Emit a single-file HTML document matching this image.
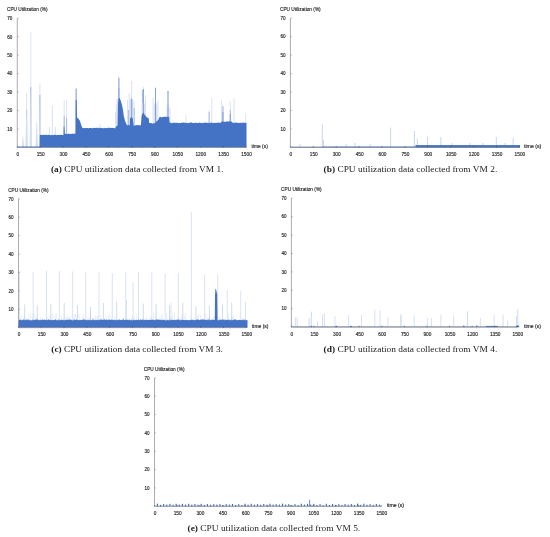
<!DOCTYPE html>
<html><head><meta charset="utf-8"><title>CPU utilization</title>
<style>html,body{margin:0;padding:0;background:#fff;}body{width:550px;height:537px;overflow:hidden;}svg{display:block;}</style>
</head><body>
<svg width="550" height="537" viewBox="0 0 550 537">
<line x1="22.80" y1="136.50" x2="22.80" y2="147.50" stroke="#d6e0f3" stroke-width="0.9"/>
<line x1="26.60" y1="93.00" x2="26.60" y2="147.50" stroke="#d6e0f3" stroke-width="0.9"/>
<line x1="30.80" y1="31.90" x2="30.80" y2="147.50" stroke="#d6e0f3" stroke-width="0.9"/>
<line x1="36.80" y1="122.40" x2="36.80" y2="147.50" stroke="#d6e0f3" stroke-width="0.9"/>
<line x1="39.90" y1="83.50" x2="39.90" y2="147.50" stroke="#d6e0f3" stroke-width="0.9"/>
<line x1="49.60" y1="126.90" x2="49.60" y2="147.50" stroke="#d6e0f3" stroke-width="0.9"/>
<line x1="52.40" y1="105.60" x2="52.40" y2="147.50" stroke="#d6e0f3" stroke-width="0.9"/>
<line x1="55.40" y1="126.90" x2="55.40" y2="147.50" stroke="#d6e0f3" stroke-width="0.9"/>
<line x1="64.20" y1="100.60" x2="64.20" y2="147.50" stroke="#d6e0f3" stroke-width="0.9"/>
<line x1="66.60" y1="100.00" x2="66.60" y2="147.50" stroke="#d6e0f3" stroke-width="0.9"/>
<line x1="75.90" y1="88.50" x2="75.90" y2="147.50" stroke="#d6e0f3" stroke-width="0.9"/>
<line x1="118.90" y1="76.00" x2="118.90" y2="147.50" stroke="#d6e0f3" stroke-width="0.9"/>
<line x1="129.20" y1="93.00" x2="129.20" y2="147.50" stroke="#d6e0f3" stroke-width="0.9"/>
<line x1="131.60" y1="80.90" x2="131.60" y2="147.50" stroke="#d6e0f3" stroke-width="0.9"/>
<line x1="134.00" y1="100.90" x2="134.00" y2="147.50" stroke="#d6e0f3" stroke-width="0.9"/>
<line x1="143.40" y1="86.80" x2="143.40" y2="147.50" stroke="#d6e0f3" stroke-width="0.9"/>
<line x1="155.50" y1="86.80" x2="155.50" y2="147.50" stroke="#d6e0f3" stroke-width="0.9"/>
<line x1="168.00" y1="91.00" x2="168.00" y2="147.50" stroke="#d6e0f3" stroke-width="0.9"/>
<line x1="185.90" y1="115.30" x2="185.90" y2="147.50" stroke="#d6e0f3" stroke-width="0.9"/>
<line x1="209.30" y1="110.00" x2="209.30" y2="147.50" stroke="#d6e0f3" stroke-width="0.9"/>
<line x1="211.80" y1="97.70" x2="211.80" y2="147.50" stroke="#d6e0f3" stroke-width="0.9"/>
<line x1="221.60" y1="100.00" x2="221.60" y2="147.50" stroke="#d6e0f3" stroke-width="0.9"/>
<line x1="223.20" y1="107.00" x2="223.20" y2="147.50" stroke="#d6e0f3" stroke-width="0.9"/>
<line x1="230.30" y1="101.90" x2="230.30" y2="147.50" stroke="#d6e0f3" stroke-width="0.9"/>
<line x1="234.10" y1="98.50" x2="234.10" y2="147.50" stroke="#d6e0f3" stroke-width="0.9"/>
<line x1="245.70" y1="112.80" x2="245.70" y2="147.50" stroke="#d6e0f3" stroke-width="0.9"/>
<line x1="80.50" y1="128.00" x2="80.50" y2="147.50" stroke="#d6e0f3" stroke-width="0.9"/>
<line x1="100.00" y1="124.00" x2="100.00" y2="147.50" stroke="#d6e0f3" stroke-width="0.9"/>
<line x1="115.60" y1="112.00" x2="115.60" y2="147.50" stroke="#d6e0f3" stroke-width="0.9"/>
<line x1="116.40" y1="104.00" x2="116.40" y2="147.50" stroke="#d6e0f3" stroke-width="0.9"/>
<line x1="117.20" y1="99.00" x2="117.20" y2="147.50" stroke="#d6e0f3" stroke-width="0.9"/>
<line x1="117.80" y1="101.00" x2="117.80" y2="147.50" stroke="#d6e0f3" stroke-width="0.9"/>
<line x1="145.50" y1="95.00" x2="145.50" y2="147.50" stroke="#d6e0f3" stroke-width="0.9"/>
<line x1="158.00" y1="100.00" x2="158.00" y2="147.50" stroke="#d6e0f3" stroke-width="0.9"/>
<line x1="153.00" y1="98.00" x2="153.00" y2="147.50" stroke="#d6e0f3" stroke-width="0.9"/>
<line x1="170.00" y1="108.00" x2="170.00" y2="147.50" stroke="#d6e0f3" stroke-width="0.9"/>
<line x1="127.50" y1="100.00" x2="127.50" y2="147.50" stroke="#d6e0f3" stroke-width="0.9"/>
<line x1="26.60" y1="110.00" x2="26.60" y2="147.50" stroke="#9fb7e3" stroke-width="0.9"/>
<line x1="30.80" y1="87.00" x2="30.80" y2="147.50" stroke="#9fb7e3" stroke-width="0.9"/>
<line x1="39.90" y1="95.00" x2="39.90" y2="147.50" stroke="#9fb7e3" stroke-width="0.9"/>
<line x1="64.20" y1="116.00" x2="64.20" y2="147.50" stroke="#9fb7e3" stroke-width="0.9"/>
<line x1="66.60" y1="118.00" x2="66.60" y2="147.50" stroke="#9fb7e3" stroke-width="0.9"/>
<line x1="75.90" y1="100.00" x2="75.90" y2="147.50" stroke="#9fb7e3" stroke-width="0.9"/>
<line x1="118.90" y1="88.00" x2="118.90" y2="147.50" stroke="#9fb7e3" stroke-width="0.9"/>
<line x1="131.70" y1="98.60" x2="131.70" y2="147.50" stroke="#9fb7e3" stroke-width="0.9"/>
<line x1="131.20" y1="105.00" x2="131.20" y2="147.50" stroke="#9fb7e3" stroke-width="0.9"/>
<line x1="132.20" y1="108.00" x2="132.20" y2="147.50" stroke="#9fb7e3" stroke-width="0.9"/>
<line x1="142.40" y1="90.00" x2="142.40" y2="147.50" stroke="#9fb7e3" stroke-width="0.9"/>
<line x1="143.40" y1="100.00" x2="143.40" y2="147.50" stroke="#9fb7e3" stroke-width="0.9"/>
<line x1="128.60" y1="110.00" x2="128.60" y2="147.50" stroke="#9fb7e3" stroke-width="0.9"/>
<line x1="134.20" y1="108.00" x2="134.20" y2="147.50" stroke="#9fb7e3" stroke-width="0.9"/>
<line x1="155.50" y1="110.00" x2="155.50" y2="147.50" stroke="#9fb7e3" stroke-width="0.9"/>
<line x1="168.00" y1="105.00" x2="168.00" y2="147.50" stroke="#9fb7e3" stroke-width="0.9"/>
<line x1="222.90" y1="106.00" x2="222.90" y2="147.50" stroke="#9fb7e3" stroke-width="0.9"/>
<line x1="230.30" y1="110.00" x2="230.30" y2="147.50" stroke="#9fb7e3" stroke-width="0.9"/>
<line x1="209.10" y1="112.00" x2="209.10" y2="147.50" stroke="#9fb7e3" stroke-width="0.9"/>
<polygon points="21.80,147.5 23.00,138 24.20,147.5" fill="#d6e0f3"/>
<polygon points="25.20,147.5 26.60,105 28.00,147.5" fill="#d6e0f3"/>
<polygon points="29.60,147.5 30.80,90 32.00,147.5" fill="#d6e0f3"/>
<polygon points="35.30,147.5 36.70,125 38.10,147.5" fill="#d6e0f3"/>
<polygon points="39.00,147.5 40.00,100 41.00,147.5" fill="#d6e0f3"/>
<polygon points="116.50,147.5 116.50,104.00 118.00,98.00 119.50,104.00 119.50,147.5" fill="#d6e0f3"/>
<polygon points="129.20,147.5 129.20,102.00 131.20,96.00 133.20,102.00 133.20,147.5" fill="#d6e0f3"/>
<polygon points="141.65,147.5 141.65,106.00 143.40,100.00 145.15,106.00 145.15,147.5" fill="#d6e0f3"/>
<polygon points="153.75,147.5 153.75,106.00 155.50,100.00 157.25,106.00 157.25,147.5" fill="#d6e0f3"/>
<polygon points="166.50,147.5 166.50,110.00 168.00,104.00 169.50,110.00 169.50,147.5" fill="#d6e0f3"/>
<line x1="118.90" y1="78.00" x2="118.90" y2="147.50" stroke="#7b98d6" stroke-width="0.9"/>
<line x1="131.70" y1="99.00" x2="131.70" y2="147.50" stroke="#7b98d6" stroke-width="0.9"/>
<line x1="143.40" y1="89.00" x2="143.40" y2="147.50" stroke="#7b98d6" stroke-width="0.9"/>
<line x1="155.50" y1="88.00" x2="155.50" y2="147.50" stroke="#7b98d6" stroke-width="0.9"/>
<line x1="168.00" y1="91.00" x2="168.00" y2="147.50" stroke="#7b98d6" stroke-width="0.9"/>
<line x1="222.90" y1="112.00" x2="222.90" y2="147.50" stroke="#7b98d6" stroke-width="0.9"/>
<line x1="230.30" y1="114.00" x2="230.30" y2="147.50" stroke="#7b98d6" stroke-width="0.9"/>
<line x1="76.20" y1="88.50" x2="76.20" y2="147.50" stroke="#6f8fd0" stroke-width="0.8"/>
<polygon points="17.30,147.50 17.30,146.60 39.60,146.60 39.80,135.00 40.20,134.89 40.80,134.79 41.40,135.09 42.00,134.74 42.60,135.02 43.20,134.92 43.80,134.73 44.40,135.00 45.00,134.72 45.60,134.96 46.20,134.74 46.80,134.75 47.40,134.95 48.00,135.20 48.60,134.77 49.20,134.83 49.80,135.08 50.40,135.27 51.00,135.05 51.60,134.94 52.20,135.29 52.80,134.73 53.40,135.22 54.00,134.87 54.60,134.79 55.20,134.77 55.80,134.89 56.40,135.19 57.00,134.81 57.60,135.05 58.20,135.08 58.80,134.92 59.40,135.03 60.00,134.74 60.60,134.74 61.20,134.82 61.80,135.11 62.40,134.96 63.00,134.89 63.50,135.00 63.50,135.00 63.70,126.50 64.30,125.90 64.80,133.80 65.00,133.85 65.60,133.77 66.20,133.68 66.80,133.98 67.40,133.92 68.00,133.65 68.60,133.84 69.20,133.82 69.80,134.03 70.40,133.94 71.00,133.67 71.60,134.09 72.20,133.57 72.80,133.75 73.40,133.95 74.00,133.59 74.60,133.79 75.20,133.52 75.50,133.80 75.70,133.70 75.90,100.00 76.60,100.00 77.00,117.50 78.50,118.70 80.00,121.00 81.50,126.00 82.50,127.90 82.70,128.12 83.30,128.19 83.90,128.05 84.50,128.26 85.10,127.87 85.70,128.14 86.30,128.07 86.90,128.06 87.50,127.97 88.10,128.24 88.70,128.31 89.30,127.98 89.90,128.11 90.50,127.69 91.10,128.14 91.70,128.10 92.30,128.35 92.90,128.23 93.50,127.85 94.10,127.92 94.70,128.12 95.30,127.67 95.90,127.97 96.50,127.77 97.10,127.73 97.70,127.69 98.30,128.19 98.90,127.74 99.50,127.82 100.10,127.92 100.70,128.26 101.30,127.71 101.90,127.96 102.50,128.03 103.10,128.27 103.70,128.22 104.30,128.25 104.90,127.84 105.50,127.94 106.10,127.90 106.70,128.27 107.30,128.32 107.90,127.76 108.50,127.77 109.10,127.81 109.70,127.81 110.30,127.99 110.90,128.06 111.50,127.83 112.10,127.65 112.70,127.94 113.30,127.91 113.90,128.05 114.50,128.32 115.10,128.13 115.30,128.00 116.30,126.30 117.60,125.50 118.00,104.00 118.60,99.00 119.30,97.80 120.50,100.00 122.00,105.00 123.00,110.00 123.80,116.00 125.00,120.80 126.80,125.00 127.00,125.21 127.60,125.29 128.20,125.34 128.80,124.84 129.40,125.52 129.80,125.20 130.00,118.40 131.30,117.00 132.80,118.50 133.50,125.00 133.60,125.62 134.20,125.70 134.80,125.64 135.40,125.31 136.00,125.32 136.60,125.08 137.20,125.51 137.80,125.05 138.40,125.05 139.00,125.17 139.60,125.13 140.20,125.27 140.80,125.04 141.00,125.40 141.00,124.00 141.60,116.00 142.50,113.50 143.40,112.50 144.50,114.50 146.00,116.50 147.50,117.80 148.80,118.50 149.20,123.00 149.20,123.00 149.80,123.12 150.40,123.08 151.00,123.29 151.60,123.02 152.20,123.70 152.80,123.49 153.40,123.12 154.00,123.20 154.50,123.40 155.50,122.50 157.00,121.00 158.50,119.50 159.40,117.20 159.60,116.88 160.20,116.89 160.80,116.70 161.40,117.28 162.00,117.39 162.60,116.97 163.20,116.99 163.80,116.67 164.40,116.68 165.00,116.87 165.60,116.81 166.20,117.26 166.80,116.73 167.40,116.62 168.00,117.36 168.60,117.02 169.20,116.72 169.20,117.00 169.40,121.00 169.60,122.83 170.20,122.47 170.80,122.82 171.40,123.13 172.00,123.05 172.60,122.94 173.20,122.63 173.80,122.71 174.40,122.57 175.00,122.99 175.60,122.82 176.20,123.00 176.80,122.68 177.40,122.61 178.00,123.02 178.60,123.14 179.20,123.05 179.80,123.01 180.40,123.02 181.00,122.97 181.60,122.61 182.20,122.81 182.80,122.70 183.40,122.47 184.00,122.47 184.60,122.65 185.20,122.63 185.80,122.93 186.40,123.12 187.00,122.76 187.60,123.11 188.20,123.14 188.80,123.12 189.40,122.71 190.00,122.60 190.60,122.61 191.20,122.59 191.80,122.59 192.40,122.89 193.00,123.08 193.60,123.04 194.20,122.79 194.80,122.91 195.40,123.01 196.00,122.51 196.60,122.91 197.20,123.09 197.80,123.00 198.40,122.98 199.00,122.78 199.60,122.57 200.20,123.00 200.80,122.68 201.40,123.01 202.00,123.13 202.60,122.73 203.20,122.73 203.80,123.11 204.40,122.96 205.00,122.57 205.60,122.54 206.20,122.56 206.80,123.08 207.40,123.01 208.00,122.55 208.60,123.03 209.20,123.14 209.80,122.91 210.40,122.70 211.00,122.83 211.60,122.54 212.20,122.46 212.80,123.13 213.40,122.90 214.00,122.82 214.60,123.10 215.20,122.75 215.80,123.06 216.40,123.03 217.00,122.60 217.60,122.63 218.20,122.66 218.80,122.62 219.40,122.86 220.00,122.63 220.60,122.74 221.00,122.80 221.20,121.34 221.80,121.89 222.40,121.50 223.00,121.57 223.60,121.66 224.20,121.88 224.80,121.54 225.40,121.89 226.00,121.60 226.60,121.62 227.20,121.62 227.80,121.26 228.40,121.56 229.00,121.38 229.60,121.25 230.20,121.81 230.80,121.37 231.40,121.58 232.00,121.76 232.00,121.60 232.20,122.74 232.80,122.58 233.40,122.71 234.00,122.74 234.60,122.90 235.20,122.42 235.80,122.74 236.40,122.52 237.00,122.54 237.60,122.89 238.20,122.71 238.80,122.74 239.40,122.88 240.00,122.99 240.60,122.66 241.20,122.78 241.80,122.70 242.40,122.71 243.00,122.83 243.60,122.67 244.20,122.72 244.80,122.68 245.40,123.01 246.00,122.84 246.40,122.70 246.50,122.80 246.50,147.50" fill="#4472c4"/>
<line x1="322.30" y1="124.40" x2="322.30" y2="147.40" stroke="#b9cbea" stroke-width="0.8"/>
<line x1="390.60" y1="127.60" x2="390.60" y2="147.40" stroke="#b9cbea" stroke-width="0.8"/>
<line x1="414.40" y1="130.90" x2="414.40" y2="147.40" stroke="#b9cbea" stroke-width="0.8"/>
<line x1="417.40" y1="138.50" x2="417.40" y2="147.40" stroke="#b9cbea" stroke-width="0.8"/>
<line x1="427.50" y1="136.90" x2="427.50" y2="147.40" stroke="#b9cbea" stroke-width="0.8"/>
<line x1="440.90" y1="137.00" x2="440.90" y2="147.40" stroke="#b9cbea" stroke-width="0.8"/>
<line x1="496.30" y1="137.00" x2="496.30" y2="147.40" stroke="#b9cbea" stroke-width="0.8"/>
<line x1="513.20" y1="138.00" x2="513.20" y2="147.40" stroke="#b9cbea" stroke-width="0.8"/>
<line x1="323.50" y1="140.00" x2="323.50" y2="147.40" stroke="#b9cbea" stroke-width="0.8"/>
<line x1="300.00" y1="144.00" x2="300.00" y2="147.40" stroke="#b9cbea" stroke-width="0.8"/>
<line x1="346.00" y1="144.00" x2="346.00" y2="147.40" stroke="#b9cbea" stroke-width="0.8"/>
<line x1="355.00" y1="143.00" x2="355.00" y2="147.40" stroke="#b9cbea" stroke-width="0.8"/>
<line x1="370.00" y1="144.00" x2="370.00" y2="147.40" stroke="#b9cbea" stroke-width="0.8"/>
<line x1="452.00" y1="143.00" x2="452.00" y2="147.40" stroke="#b9cbea" stroke-width="0.8"/>
<line x1="470.00" y1="143.00" x2="470.00" y2="147.40" stroke="#b9cbea" stroke-width="0.8"/>
<line x1="483.00" y1="143.00" x2="483.00" y2="147.40" stroke="#b9cbea" stroke-width="0.8"/>
<line x1="505.00" y1="143.00" x2="505.00" y2="147.40" stroke="#b9cbea" stroke-width="0.8"/>
<rect x="290.40" y="146.7" width="31.60" height="0.9" fill="#5f73a6"/>
<rect x="322" y="146.5" width="197.90" height="1.1" fill="#4472c4"/>
<rect x="415.5" y="145.1" width="104.50" height="2.4" fill="#4472c4"/>
<line x1="21.12" y1="315.42" x2="21.12" y2="327.70" stroke="#d6e0f3" stroke-width="0.6"/>
<line x1="24.23" y1="316.07" x2="24.23" y2="327.70" stroke="#d6e0f3" stroke-width="0.6"/>
<line x1="25.13" y1="318.10" x2="25.13" y2="327.70" stroke="#d6e0f3" stroke-width="0.6"/>
<line x1="28.93" y1="314.56" x2="28.93" y2="327.70" stroke="#d6e0f3" stroke-width="0.6"/>
<line x1="30.65" y1="313.64" x2="30.65" y2="327.70" stroke="#d6e0f3" stroke-width="0.6"/>
<line x1="32.81" y1="313.26" x2="32.81" y2="327.70" stroke="#d6e0f3" stroke-width="0.6"/>
<line x1="34.16" y1="313.06" x2="34.16" y2="327.70" stroke="#d6e0f3" stroke-width="0.6"/>
<line x1="36.13" y1="316.13" x2="36.13" y2="327.70" stroke="#d6e0f3" stroke-width="0.6"/>
<line x1="37.65" y1="317.42" x2="37.65" y2="327.70" stroke="#d6e0f3" stroke-width="0.6"/>
<line x1="41.14" y1="316.68" x2="41.14" y2="327.70" stroke="#d6e0f3" stroke-width="0.6"/>
<line x1="42.81" y1="318.15" x2="42.81" y2="327.70" stroke="#d6e0f3" stroke-width="0.6"/>
<line x1="47.15" y1="317.04" x2="47.15" y2="327.70" stroke="#d6e0f3" stroke-width="0.6"/>
<line x1="49.19" y1="316.18" x2="49.19" y2="327.70" stroke="#d6e0f3" stroke-width="0.6"/>
<line x1="52.42" y1="313.44" x2="52.42" y2="327.70" stroke="#d6e0f3" stroke-width="0.6"/>
<line x1="54.95" y1="314.71" x2="54.95" y2="327.70" stroke="#d6e0f3" stroke-width="0.6"/>
<line x1="56.34" y1="313.34" x2="56.34" y2="327.70" stroke="#d6e0f3" stroke-width="0.6"/>
<line x1="61.28" y1="315.46" x2="61.28" y2="327.70" stroke="#d6e0f3" stroke-width="0.6"/>
<line x1="63.38" y1="317.79" x2="63.38" y2="327.70" stroke="#d6e0f3" stroke-width="0.6"/>
<line x1="64.91" y1="317.90" x2="64.91" y2="327.70" stroke="#d6e0f3" stroke-width="0.6"/>
<line x1="65.94" y1="317.39" x2="65.94" y2="327.70" stroke="#d6e0f3" stroke-width="0.6"/>
<line x1="67.18" y1="314.32" x2="67.18" y2="327.70" stroke="#d6e0f3" stroke-width="0.6"/>
<line x1="68.38" y1="317.52" x2="68.38" y2="327.70" stroke="#d6e0f3" stroke-width="0.6"/>
<line x1="69.67" y1="317.12" x2="69.67" y2="327.70" stroke="#d6e0f3" stroke-width="0.6"/>
<line x1="72.06" y1="315.89" x2="72.06" y2="327.70" stroke="#d6e0f3" stroke-width="0.6"/>
<line x1="74.17" y1="314.00" x2="74.17" y2="327.70" stroke="#d6e0f3" stroke-width="0.6"/>
<line x1="75.57" y1="313.91" x2="75.57" y2="327.70" stroke="#d6e0f3" stroke-width="0.6"/>
<line x1="76.92" y1="314.72" x2="76.92" y2="327.70" stroke="#d6e0f3" stroke-width="0.6"/>
<line x1="79.10" y1="313.92" x2="79.10" y2="327.70" stroke="#d6e0f3" stroke-width="0.6"/>
<line x1="82.26" y1="318.20" x2="82.26" y2="327.70" stroke="#d6e0f3" stroke-width="0.6"/>
<line x1="83.24" y1="314.43" x2="83.24" y2="327.70" stroke="#d6e0f3" stroke-width="0.6"/>
<line x1="84.40" y1="318.04" x2="84.40" y2="327.70" stroke="#d6e0f3" stroke-width="0.6"/>
<line x1="88.11" y1="317.17" x2="88.11" y2="327.70" stroke="#d6e0f3" stroke-width="0.6"/>
<line x1="89.32" y1="317.63" x2="89.32" y2="327.70" stroke="#d6e0f3" stroke-width="0.6"/>
<line x1="90.75" y1="313.21" x2="90.75" y2="327.70" stroke="#d6e0f3" stroke-width="0.6"/>
<line x1="92.91" y1="317.16" x2="92.91" y2="327.70" stroke="#d6e0f3" stroke-width="0.6"/>
<line x1="95.06" y1="316.54" x2="95.06" y2="327.70" stroke="#d6e0f3" stroke-width="0.6"/>
<line x1="95.86" y1="315.89" x2="95.86" y2="327.70" stroke="#d6e0f3" stroke-width="0.6"/>
<line x1="97.37" y1="315.72" x2="97.37" y2="327.70" stroke="#d6e0f3" stroke-width="0.6"/>
<line x1="98.17" y1="318.01" x2="98.17" y2="327.70" stroke="#d6e0f3" stroke-width="0.6"/>
<line x1="99.53" y1="318.38" x2="99.53" y2="327.70" stroke="#d6e0f3" stroke-width="0.6"/>
<line x1="100.76" y1="315.28" x2="100.76" y2="327.70" stroke="#d6e0f3" stroke-width="0.6"/>
<line x1="106.05" y1="316.71" x2="106.05" y2="327.70" stroke="#d6e0f3" stroke-width="0.6"/>
<line x1="108.23" y1="314.52" x2="108.23" y2="327.70" stroke="#d6e0f3" stroke-width="0.6"/>
<line x1="109.93" y1="313.91" x2="109.93" y2="327.70" stroke="#d6e0f3" stroke-width="0.6"/>
<line x1="114.80" y1="315.73" x2="114.80" y2="327.70" stroke="#d6e0f3" stroke-width="0.6"/>
<line x1="122.55" y1="318.33" x2="122.55" y2="327.70" stroke="#d6e0f3" stroke-width="0.6"/>
<line x1="123.53" y1="317.92" x2="123.53" y2="327.70" stroke="#d6e0f3" stroke-width="0.6"/>
<line x1="128.94" y1="318.48" x2="128.94" y2="327.70" stroke="#d6e0f3" stroke-width="0.6"/>
<line x1="132.36" y1="314.87" x2="132.36" y2="327.70" stroke="#d6e0f3" stroke-width="0.6"/>
<line x1="134.40" y1="317.04" x2="134.40" y2="327.70" stroke="#d6e0f3" stroke-width="0.6"/>
<line x1="136.22" y1="314.43" x2="136.22" y2="327.70" stroke="#d6e0f3" stroke-width="0.6"/>
<line x1="138.39" y1="316.40" x2="138.39" y2="327.70" stroke="#d6e0f3" stroke-width="0.6"/>
<line x1="143.43" y1="317.69" x2="143.43" y2="327.70" stroke="#d6e0f3" stroke-width="0.6"/>
<line x1="146.63" y1="317.02" x2="146.63" y2="327.70" stroke="#d6e0f3" stroke-width="0.6"/>
<line x1="150.12" y1="315.66" x2="150.12" y2="327.70" stroke="#d6e0f3" stroke-width="0.6"/>
<line x1="151.57" y1="317.85" x2="151.57" y2="327.70" stroke="#d6e0f3" stroke-width="0.6"/>
<line x1="153.62" y1="313.12" x2="153.62" y2="327.70" stroke="#d6e0f3" stroke-width="0.6"/>
<line x1="155.73" y1="315.98" x2="155.73" y2="327.70" stroke="#d6e0f3" stroke-width="0.6"/>
<line x1="159.11" y1="317.35" x2="159.11" y2="327.70" stroke="#d6e0f3" stroke-width="0.6"/>
<line x1="161.23" y1="315.30" x2="161.23" y2="327.70" stroke="#d6e0f3" stroke-width="0.6"/>
<line x1="162.23" y1="313.26" x2="162.23" y2="327.70" stroke="#d6e0f3" stroke-width="0.6"/>
<line x1="166.51" y1="313.56" x2="166.51" y2="327.70" stroke="#d6e0f3" stroke-width="0.6"/>
<line x1="167.99" y1="318.48" x2="167.99" y2="327.70" stroke="#d6e0f3" stroke-width="0.6"/>
<line x1="169.48" y1="316.84" x2="169.48" y2="327.70" stroke="#d6e0f3" stroke-width="0.6"/>
<line x1="170.48" y1="316.76" x2="170.48" y2="327.70" stroke="#d6e0f3" stroke-width="0.6"/>
<line x1="172.46" y1="314.37" x2="172.46" y2="327.70" stroke="#d6e0f3" stroke-width="0.6"/>
<line x1="174.43" y1="313.40" x2="174.43" y2="327.70" stroke="#d6e0f3" stroke-width="0.6"/>
<line x1="177.43" y1="316.34" x2="177.43" y2="327.70" stroke="#d6e0f3" stroke-width="0.6"/>
<line x1="180.94" y1="316.99" x2="180.94" y2="327.70" stroke="#d6e0f3" stroke-width="0.6"/>
<line x1="181.81" y1="313.91" x2="181.81" y2="327.70" stroke="#d6e0f3" stroke-width="0.6"/>
<line x1="184.15" y1="315.69" x2="184.15" y2="327.70" stroke="#d6e0f3" stroke-width="0.6"/>
<line x1="185.22" y1="313.24" x2="185.22" y2="327.70" stroke="#d6e0f3" stroke-width="0.6"/>
<line x1="191.06" y1="314.54" x2="191.06" y2="327.70" stroke="#d6e0f3" stroke-width="0.6"/>
<line x1="195.06" y1="318.23" x2="195.06" y2="327.70" stroke="#d6e0f3" stroke-width="0.6"/>
<line x1="197.16" y1="315.90" x2="197.16" y2="327.70" stroke="#d6e0f3" stroke-width="0.6"/>
<line x1="198.44" y1="314.44" x2="198.44" y2="327.70" stroke="#d6e0f3" stroke-width="0.6"/>
<line x1="200.61" y1="314.89" x2="200.61" y2="327.70" stroke="#d6e0f3" stroke-width="0.6"/>
<line x1="203.18" y1="317.61" x2="203.18" y2="327.70" stroke="#d6e0f3" stroke-width="0.6"/>
<line x1="205.77" y1="313.52" x2="205.77" y2="327.70" stroke="#d6e0f3" stroke-width="0.6"/>
<line x1="207.96" y1="317.73" x2="207.96" y2="327.70" stroke="#d6e0f3" stroke-width="0.6"/>
<line x1="209.03" y1="316.62" x2="209.03" y2="327.70" stroke="#d6e0f3" stroke-width="0.6"/>
<line x1="209.96" y1="317.08" x2="209.96" y2="327.70" stroke="#d6e0f3" stroke-width="0.6"/>
<line x1="213.41" y1="316.22" x2="213.41" y2="327.70" stroke="#d6e0f3" stroke-width="0.6"/>
<line x1="214.94" y1="316.64" x2="214.94" y2="327.70" stroke="#d6e0f3" stroke-width="0.6"/>
<line x1="215.83" y1="313.18" x2="215.83" y2="327.70" stroke="#d6e0f3" stroke-width="0.6"/>
<line x1="216.80" y1="315.04" x2="216.80" y2="327.70" stroke="#d6e0f3" stroke-width="0.6"/>
<line x1="218.81" y1="317.01" x2="218.81" y2="327.70" stroke="#d6e0f3" stroke-width="0.6"/>
<line x1="219.96" y1="316.05" x2="219.96" y2="327.70" stroke="#d6e0f3" stroke-width="0.6"/>
<line x1="224.12" y1="318.32" x2="224.12" y2="327.70" stroke="#d6e0f3" stroke-width="0.6"/>
<line x1="228.17" y1="313.40" x2="228.17" y2="327.70" stroke="#d6e0f3" stroke-width="0.6"/>
<line x1="232.29" y1="317.90" x2="232.29" y2="327.70" stroke="#d6e0f3" stroke-width="0.6"/>
<line x1="233.31" y1="314.75" x2="233.31" y2="327.70" stroke="#d6e0f3" stroke-width="0.6"/>
<line x1="242.25" y1="317.80" x2="242.25" y2="327.70" stroke="#d6e0f3" stroke-width="0.6"/>
<line x1="245.18" y1="318.11" x2="245.18" y2="327.70" stroke="#d6e0f3" stroke-width="0.6"/>
<line x1="19.40" y1="271.06" x2="19.40" y2="327.70" stroke="#d6e0f3" stroke-width="0.9"/>
<line x1="33.20" y1="271.66" x2="33.20" y2="327.70" stroke="#d6e0f3" stroke-width="0.9"/>
<line x1="46.50" y1="270.72" x2="46.50" y2="327.70" stroke="#d6e0f3" stroke-width="0.9"/>
<line x1="59.30" y1="271.18" x2="59.30" y2="327.70" stroke="#d6e0f3" stroke-width="0.9"/>
<line x1="72.60" y1="271.44" x2="72.60" y2="327.70" stroke="#d6e0f3" stroke-width="0.9"/>
<line x1="85.70" y1="272.23" x2="85.70" y2="327.70" stroke="#d6e0f3" stroke-width="0.9"/>
<line x1="99.00" y1="271.73" x2="99.00" y2="327.70" stroke="#d6e0f3" stroke-width="0.9"/>
<line x1="112.30" y1="273.11" x2="112.30" y2="327.70" stroke="#d6e0f3" stroke-width="0.9"/>
<line x1="125.70" y1="272.46" x2="125.70" y2="327.70" stroke="#d6e0f3" stroke-width="0.9"/>
<line x1="138.50" y1="272.08" x2="138.50" y2="327.70" stroke="#d6e0f3" stroke-width="0.9"/>
<line x1="151.80" y1="272.10" x2="151.80" y2="327.70" stroke="#d6e0f3" stroke-width="0.9"/>
<line x1="165.10" y1="273.24" x2="165.10" y2="327.70" stroke="#d6e0f3" stroke-width="0.9"/>
<line x1="178.40" y1="272.83" x2="178.40" y2="327.70" stroke="#d6e0f3" stroke-width="0.9"/>
<line x1="204.60" y1="274.69" x2="204.60" y2="327.70" stroke="#d6e0f3" stroke-width="0.9"/>
<line x1="217.70" y1="274.23" x2="217.70" y2="327.70" stroke="#d6e0f3" stroke-width="0.9"/>
<line x1="191.30" y1="211.60" x2="191.30" y2="327.70" stroke="#d6e0f3" stroke-width="0.9"/>
<line x1="133.10" y1="282.30" x2="133.10" y2="327.70" stroke="#d6e0f3" stroke-width="0.9"/>
<line x1="227.30" y1="290.00" x2="227.30" y2="327.70" stroke="#d6e0f3" stroke-width="0.9"/>
<line x1="240.70" y1="290.80" x2="240.70" y2="327.70" stroke="#d6e0f3" stroke-width="0.9"/>
<line x1="245.50" y1="301.70" x2="245.50" y2="327.70" stroke="#d6e0f3" stroke-width="0.9"/>
<line x1="126.50" y1="300.00" x2="126.50" y2="327.70" stroke="#d6e0f3" stroke-width="0.9"/>
<line x1="171.00" y1="303.00" x2="171.00" y2="327.70" stroke="#d6e0f3" stroke-width="0.9"/>
<line x1="24.70" y1="304.49" x2="24.70" y2="327.70" stroke="#b9cbea" stroke-width="0.7"/>
<line x1="37.30" y1="305.55" x2="37.30" y2="327.70" stroke="#b9cbea" stroke-width="0.7"/>
<line x1="50.80" y1="304.02" x2="50.80" y2="327.70" stroke="#b9cbea" stroke-width="0.7"/>
<line x1="64.20" y1="303.04" x2="64.20" y2="327.70" stroke="#b9cbea" stroke-width="0.7"/>
<line x1="77.50" y1="305.50" x2="77.50" y2="327.70" stroke="#b9cbea" stroke-width="0.7"/>
<line x1="90.50" y1="307.05" x2="90.50" y2="327.70" stroke="#b9cbea" stroke-width="0.7"/>
<line x1="103.40" y1="302.86" x2="103.40" y2="327.70" stroke="#b9cbea" stroke-width="0.7"/>
<line x1="116.70" y1="301.70" x2="116.70" y2="327.70" stroke="#b9cbea" stroke-width="0.7"/>
<line x1="143.30" y1="303.53" x2="143.30" y2="327.70" stroke="#b9cbea" stroke-width="0.7"/>
<line x1="156.10" y1="304.02" x2="156.10" y2="327.70" stroke="#b9cbea" stroke-width="0.7"/>
<line x1="169.50" y1="305.60" x2="169.50" y2="327.70" stroke="#b9cbea" stroke-width="0.7"/>
<line x1="182.80" y1="302.69" x2="182.80" y2="327.70" stroke="#b9cbea" stroke-width="0.7"/>
<line x1="195.90" y1="306.28" x2="195.90" y2="327.70" stroke="#b9cbea" stroke-width="0.7"/>
<line x1="209.40" y1="305.93" x2="209.40" y2="327.70" stroke="#b9cbea" stroke-width="0.7"/>
<line x1="222.50" y1="304.53" x2="222.50" y2="327.70" stroke="#b9cbea" stroke-width="0.7"/>
<line x1="231.70" y1="302.73" x2="231.70" y2="327.70" stroke="#b9cbea" stroke-width="0.7"/>
<polygon points="18.50,327.70 18.50,320.42 19.00,319.69 19.50,320.25 20.00,319.60 20.50,319.59 21.00,320.19 21.50,319.67 22.00,320.40 22.50,319.90 23.00,319.56 23.50,319.60 24.00,319.81 24.50,320.08 25.00,320.39 25.50,319.51 26.00,319.78 26.50,319.58 27.00,320.42 27.50,319.51 28.00,319.41 28.50,319.42 29.00,319.78 29.50,320.34 30.00,320.32 30.50,320.16 31.00,320.45 31.50,320.37 32.00,319.71 32.50,319.55 33.00,320.38 33.50,320.17 34.00,319.39 34.50,320.08 35.00,319.77 35.50,319.76 36.00,319.71 36.50,319.54 37.00,319.35 37.50,319.66 38.00,319.74 38.50,320.40 39.00,319.49 39.50,320.41 40.00,319.58 40.50,319.74 41.00,320.25 41.50,320.25 42.00,319.83 42.50,319.40 43.00,319.87 43.50,319.76 44.00,320.36 44.50,319.56 45.00,319.75 45.50,320.34 46.00,319.38 46.50,319.80 47.00,320.24 47.50,320.19 48.00,319.39 48.50,319.39 49.00,319.42 49.50,320.36 50.00,319.63 50.50,320.17 51.00,320.34 51.50,319.72 52.00,319.65 52.50,320.40 53.00,320.03 53.50,319.64 54.00,320.14 54.50,319.70 55.00,319.65 55.50,319.35 56.00,320.18 56.50,320.36 57.00,320.05 57.50,320.39 58.00,319.38 58.50,319.61 59.00,319.87 59.50,320.40 60.00,320.40 60.50,319.78 61.00,319.63 61.50,319.82 62.00,319.89 62.50,320.37 63.00,319.55 63.50,320.23 64.00,320.16 64.50,320.26 65.00,320.20 65.50,320.02 66.00,319.71 66.50,319.70 67.00,319.75 67.50,320.21 68.00,319.44 68.50,319.57 69.00,320.18 69.50,319.62 70.00,319.42 70.50,319.39 71.00,319.96 71.50,319.71 72.00,320.43 72.50,320.32 73.00,320.44 73.50,319.64 74.00,319.44 74.50,319.46 75.00,319.90 75.50,320.13 76.00,319.84 76.50,319.61 77.00,319.81 77.50,320.03 78.00,320.09 78.50,320.17 79.00,320.28 79.50,320.08 80.00,319.48 80.50,320.27 81.00,319.67 81.50,319.97 82.00,319.76 82.50,320.16 83.00,319.57 83.50,319.62 84.00,319.62 84.50,319.52 85.00,320.32 85.50,319.99 86.00,319.71 86.50,319.79 87.00,320.44 87.50,319.91 88.00,319.60 88.50,320.24 89.00,320.07 89.50,320.44 90.00,319.46 90.50,319.87 91.00,320.25 91.50,320.27 92.00,320.36 92.50,319.39 93.00,319.67 93.50,319.48 94.00,319.56 94.50,320.42 95.00,319.99 95.50,320.37 96.00,319.76 96.50,320.30 97.00,319.84 97.50,319.64 98.00,320.21 98.50,320.39 99.00,319.47 99.50,320.01 100.00,320.03 100.50,319.59 101.00,319.76 101.50,319.51 102.00,319.57 102.50,319.63 103.00,320.01 103.50,320.07 104.00,319.57 104.50,319.36 105.00,319.71 105.50,320.10 106.00,319.55 106.50,319.69 107.00,319.57 107.50,320.22 108.00,319.95 108.50,319.42 109.00,319.46 109.50,319.78 110.00,319.96 110.50,320.05 111.00,319.45 111.50,319.53 112.00,320.11 112.50,319.80 113.00,319.66 113.50,319.69 114.00,320.40 114.50,319.69 115.00,319.97 115.50,319.74 116.00,319.81 116.50,320.30 117.00,320.45 117.50,319.75 118.00,319.57 118.50,320.15 119.00,319.57 119.50,319.36 120.00,320.34 120.50,319.82 121.00,320.25 121.50,319.80 122.00,320.32 122.50,319.86 123.00,319.53 123.50,319.37 124.00,319.96 124.50,320.05 125.00,320.35 125.50,319.45 126.00,320.03 126.50,319.76 127.00,319.90 127.50,319.51 128.00,319.66 128.50,319.92 129.00,320.37 129.50,319.47 130.00,319.89 130.50,320.24 131.00,320.41 131.50,319.57 132.00,319.49 132.50,320.39 133.00,320.42 133.50,319.88 134.00,319.41 134.50,320.37 135.00,319.78 135.50,320.34 136.00,320.03 136.50,320.26 137.00,319.53 137.50,320.21 138.00,319.59 138.50,319.79 139.00,320.28 139.50,320.26 140.00,319.55 140.50,319.59 141.00,319.79 141.50,319.92 142.00,319.77 142.50,319.49 143.00,319.62 143.50,320.15 144.00,320.34 144.50,319.40 145.00,319.97 145.50,320.18 146.00,319.39 146.50,320.27 147.00,319.48 147.50,320.01 148.00,319.96 148.50,320.04 149.00,319.69 149.50,319.81 150.00,319.99 150.50,319.82 151.00,320.07 151.50,319.84 152.00,319.83 152.50,319.38 153.00,320.03 153.50,319.89 154.00,319.61 154.50,320.19 155.00,320.21 155.50,319.85 156.00,319.55 156.50,319.87 157.00,319.47 157.50,319.49 158.00,319.82 158.50,319.45 159.00,319.84 159.50,319.91 160.00,319.39 160.50,320.05 161.00,319.44 161.50,320.16 162.00,320.21 162.50,319.91 163.00,319.41 163.50,319.90 164.00,319.77 164.50,320.40 165.00,319.50 165.50,320.29 166.00,320.45 166.50,320.16 167.00,320.25 167.50,319.56 168.00,320.43 168.50,319.89 169.00,320.40 169.50,320.36 170.00,319.53 170.50,320.22 171.00,320.37 171.50,319.42 172.00,319.74 172.50,320.18 173.00,319.52 173.50,320.34 174.00,319.65 174.50,320.25 175.00,319.51 175.50,319.90 176.00,320.36 176.50,319.58 177.00,319.64 177.50,319.91 178.00,319.70 178.50,319.39 179.00,319.55 179.50,319.53 180.00,320.38 180.50,320.10 181.00,320.33 181.50,319.54 182.00,320.21 182.50,319.48 183.00,319.93 183.50,320.05 184.00,319.75 184.50,320.31 185.00,319.96 185.50,319.99 186.00,320.32 186.50,319.47 187.00,320.44 187.50,320.04 188.00,319.78 188.50,320.23 189.00,319.64 189.50,320.44 190.00,319.99 190.50,319.75 191.00,320.19 191.50,319.84 192.00,319.54 192.50,320.17 193.00,319.40 193.50,320.25 194.00,319.63 194.50,320.05 195.00,320.43 195.50,319.99 196.00,320.08 196.50,319.69 197.00,319.35 197.50,319.39 198.00,319.51 198.50,320.03 199.00,319.83 199.50,319.91 200.00,320.34 200.50,319.50 201.00,319.60 201.50,320.07 202.00,319.37 202.50,319.35 203.00,319.74 203.50,319.47 204.00,319.74 204.50,319.60 205.00,319.99 205.50,320.00 206.00,319.57 206.50,320.04 207.00,319.87 207.50,319.50 208.00,320.38 208.50,319.62 209.00,319.51 209.50,319.46 210.00,320.05 210.50,320.31 211.00,320.21 211.50,319.79 212.00,319.64 212.50,319.36 213.00,320.06 213.50,319.97 214.00,319.74 214.50,320.06 214.80,319.90 215.00,296.00 215.40,288.40 216.20,290.00 217.20,294.40 217.50,319.90 217.80,319.84 218.30,320.38 218.80,320.16 219.30,319.62 219.80,320.34 220.30,319.40 220.80,319.93 221.30,319.80 221.80,319.61 222.30,319.41 222.80,320.21 223.30,319.36 223.80,319.96 224.30,320.39 224.80,319.51 225.30,319.57 225.80,320.02 226.30,319.91 226.80,320.06 227.30,320.24 227.80,319.54 228.30,319.69 228.80,319.68 229.30,319.40 229.80,320.33 230.30,320.21 230.80,320.14 231.30,319.36 231.80,320.28 232.30,320.17 232.80,319.86 233.30,320.17 233.80,319.85 234.30,319.60 234.80,319.47 235.30,319.61 235.80,319.39 236.30,319.72 236.80,320.17 237.30,320.11 237.80,320.28 238.30,320.13 238.80,319.64 239.30,319.96 239.80,319.83 240.30,320.22 240.80,319.93 241.30,319.64 241.80,320.06 242.30,320.41 242.80,319.59 243.30,320.32 243.80,319.37 244.30,319.64 244.80,319.61 245.30,320.17 245.80,320.39 246.30,320.17 246.80,319.71 247.30,319.90 247.50,319.90 247.50,327.70" fill="#4472c4"/>
<line x1="295.60" y1="317.10" x2="295.60" y2="327.10" stroke="#c8d6f0" stroke-width="0.75"/>
<line x1="297.20" y1="317.50" x2="297.20" y2="327.10" stroke="#c8d6f0" stroke-width="0.75"/>
<line x1="309.20" y1="318.20" x2="309.20" y2="327.10" stroke="#b9cbea" stroke-width="0.75"/>
<line x1="311.30" y1="311.60" x2="311.30" y2="327.10" stroke="#b9cbea" stroke-width="0.75"/>
<line x1="317.50" y1="321.50" x2="317.50" y2="327.10" stroke="#c8d6f0" stroke-width="0.75"/>
<line x1="322.50" y1="314.90" x2="322.50" y2="327.10" stroke="#c8d6f0" stroke-width="0.75"/>
<line x1="324.40" y1="313.20" x2="324.40" y2="327.10" stroke="#c8d6f0" stroke-width="0.75"/>
<line x1="334.90" y1="316.40" x2="334.90" y2="327.10" stroke="#c8d6f0" stroke-width="0.75"/>
<line x1="348.70" y1="315.30" x2="348.70" y2="327.10" stroke="#c8d6f0" stroke-width="0.75"/>
<line x1="361.50" y1="315.30" x2="361.50" y2="327.10" stroke="#c8d6f0" stroke-width="0.75"/>
<line x1="374.80" y1="309.50" x2="374.80" y2="327.10" stroke="#c8d6f0" stroke-width="0.75"/>
<line x1="380.10" y1="310.50" x2="380.10" y2="327.10" stroke="#c8d6f0" stroke-width="0.75"/>
<line x1="387.90" y1="317.10" x2="387.90" y2="327.10" stroke="#c8d6f0" stroke-width="0.75"/>
<line x1="401.00" y1="314.50" x2="401.00" y2="327.10" stroke="#c8d6f0" stroke-width="0.75"/>
<line x1="400.80" y1="315.50" x2="400.80" y2="327.10" stroke="#c8d6f0" stroke-width="0.75"/>
<line x1="414.20" y1="315.50" x2="414.20" y2="327.10" stroke="#c8d6f0" stroke-width="0.75"/>
<line x1="427.30" y1="317.60" x2="427.30" y2="327.10" stroke="#c8d6f0" stroke-width="0.75"/>
<line x1="431.40" y1="318.00" x2="431.40" y2="327.10" stroke="#c8d6f0" stroke-width="0.75"/>
<line x1="440.90" y1="314.90" x2="440.90" y2="327.10" stroke="#c8d6f0" stroke-width="0.75"/>
<line x1="453.70" y1="315.50" x2="453.70" y2="327.10" stroke="#c8d6f0" stroke-width="0.75"/>
<line x1="467.40" y1="311.40" x2="467.40" y2="327.10" stroke="#b9cbea" stroke-width="0.75"/>
<line x1="480.40" y1="318.20" x2="480.40" y2="327.10" stroke="#c8d6f0" stroke-width="0.75"/>
<line x1="494.10" y1="314.90" x2="494.10" y2="327.10" stroke="#c8d6f0" stroke-width="0.75"/>
<line x1="503.10" y1="314.90" x2="503.10" y2="327.10" stroke="#c8d6f0" stroke-width="0.75"/>
<line x1="507.70" y1="320.40" x2="507.70" y2="327.10" stroke="#c8d6f0" stroke-width="0.75"/>
<line x1="517.80" y1="309.50" x2="517.80" y2="327.10" stroke="#b9cbea" stroke-width="0.75"/>
<line x1="516.50" y1="316.00" x2="516.50" y2="327.10" stroke="#c8d6f0" stroke-width="0.75"/>
<rect x="291.40" y="326.4" width="227.90" height="0.9" fill="#7d8db5"/>
<rect x="310.5" y="325.90" width="1.5" height="1.2" fill="#4472c4"/>
<rect x="335" y="326.10" width="2" height="1.0" fill="#4472c4"/>
<rect x="350" y="325.90" width="2" height="1.2" fill="#4472c4"/>
<rect x="463" y="325.60" width="1.5" height="1.5" fill="#4472c4"/>
<rect x="476" y="325.60" width="1.5" height="1.5" fill="#4472c4"/>
<rect x="486" y="325.90" width="12" height="1.2" fill="#4472c4"/>
<rect x="516" y="325.60" width="3" height="1.5" fill="#4472c4"/>
<rect x="154.50" y="505.8" width="226.80" height="0.6" fill="#6d7fae" opacity="0.8"/>
<rect x="156.85" y="503.67" width="1.1" height="2.73" fill="#3f64c0"/>
<rect x="159.98" y="504.90" width="1.1" height="1.50" fill="#3f64c0"/>
<rect x="163.11" y="504.06" width="1.1" height="2.34" fill="#3f64c0"/>
<rect x="166.23" y="504.56" width="1.1" height="1.84" fill="#3f64c0"/>
<rect x="169.36" y="503.82" width="1.1" height="2.58" fill="#3f64c0"/>
<rect x="172.49" y="504.68" width="1.1" height="1.72" fill="#3f64c0"/>
<rect x="175.62" y="503.80" width="1.1" height="2.60" fill="#3f64c0"/>
<rect x="178.75" y="504.51" width="1.1" height="1.89" fill="#3f64c0"/>
<rect x="181.87" y="503.92" width="1.1" height="2.48" fill="#3f64c0"/>
<rect x="185.00" y="504.60" width="1.1" height="1.80" fill="#3f64c0"/>
<rect x="188.13" y="503.78" width="1.1" height="2.62" fill="#3f64c0"/>
<rect x="191.26" y="504.59" width="1.1" height="1.81" fill="#3f64c0"/>
<rect x="194.39" y="503.94" width="1.1" height="2.46" fill="#3f64c0"/>
<rect x="197.51" y="504.67" width="1.1" height="1.73" fill="#3f64c0"/>
<rect x="200.64" y="503.86" width="1.1" height="2.54" fill="#3f64c0"/>
<rect x="203.77" y="504.92" width="1.1" height="1.48" fill="#3f64c0"/>
<rect x="206.90" y="504.07" width="1.1" height="2.33" fill="#3f64c0"/>
<rect x="210.03" y="504.73" width="1.1" height="1.67" fill="#3f64c0"/>
<rect x="213.15" y="504.15" width="1.1" height="2.25" fill="#3f64c0"/>
<rect x="216.28" y="504.55" width="1.1" height="1.85" fill="#3f64c0"/>
<rect x="219.41" y="504.11" width="1.1" height="2.29" fill="#3f64c0"/>
<rect x="222.54" y="505.08" width="1.1" height="1.32" fill="#3f64c0"/>
<rect x="225.67" y="504.14" width="1.1" height="2.26" fill="#3f64c0"/>
<rect x="228.79" y="504.54" width="1.1" height="1.86" fill="#3f64c0"/>
<rect x="231.92" y="503.99" width="1.1" height="2.41" fill="#3f64c0"/>
<rect x="235.05" y="505.01" width="1.1" height="1.39" fill="#3f64c0"/>
<rect x="238.18" y="504.18" width="1.1" height="2.22" fill="#3f64c0"/>
<rect x="241.31" y="505.08" width="1.1" height="1.32" fill="#3f64c0"/>
<rect x="244.43" y="503.78" width="1.1" height="2.62" fill="#3f64c0"/>
<rect x="247.56" y="504.72" width="1.1" height="1.68" fill="#3f64c0"/>
<rect x="250.69" y="503.78" width="1.1" height="2.62" fill="#3f64c0"/>
<rect x="253.82" y="504.66" width="1.1" height="1.74" fill="#3f64c0"/>
<rect x="256.95" y="504.16" width="1.1" height="2.24" fill="#3f64c0"/>
<rect x="260.07" y="504.75" width="1.1" height="1.65" fill="#3f64c0"/>
<rect x="263.20" y="503.98" width="1.1" height="2.42" fill="#3f64c0"/>
<rect x="266.33" y="504.61" width="1.1" height="1.79" fill="#3f64c0"/>
<rect x="269.46" y="503.71" width="1.1" height="2.69" fill="#3f64c0"/>
<rect x="272.59" y="504.57" width="1.1" height="1.83" fill="#3f64c0"/>
<rect x="275.71" y="504.16" width="1.1" height="2.24" fill="#3f64c0"/>
<rect x="278.84" y="504.58" width="1.1" height="1.82" fill="#3f64c0"/>
<rect x="281.97" y="503.65" width="1.1" height="2.75" fill="#3f64c0"/>
<rect x="285.10" y="504.53" width="1.1" height="1.87" fill="#3f64c0"/>
<rect x="288.23" y="504.14" width="1.1" height="2.26" fill="#3f64c0"/>
<rect x="291.35" y="504.98" width="1.1" height="1.42" fill="#3f64c0"/>
<rect x="294.48" y="504.13" width="1.1" height="2.27" fill="#3f64c0"/>
<rect x="297.61" y="505.08" width="1.1" height="1.32" fill="#3f64c0"/>
<rect x="300.74" y="503.69" width="1.1" height="2.71" fill="#3f64c0"/>
<rect x="303.87" y="504.61" width="1.1" height="1.79" fill="#3f64c0"/>
<rect x="306.99" y="503.82" width="1.1" height="2.58" fill="#3f64c0"/>
<rect x="310.12" y="504.60" width="1.1" height="1.80" fill="#3f64c0"/>
<rect x="313.25" y="503.82" width="1.1" height="2.58" fill="#3f64c0"/>
<rect x="316.38" y="504.93" width="1.1" height="1.47" fill="#3f64c0"/>
<rect x="319.51" y="504.14" width="1.1" height="2.26" fill="#3f64c0"/>
<rect x="322.63" y="505.04" width="1.1" height="1.36" fill="#3f64c0"/>
<rect x="325.76" y="503.75" width="1.1" height="2.65" fill="#3f64c0"/>
<rect x="328.89" y="504.98" width="1.1" height="1.42" fill="#3f64c0"/>
<rect x="332.02" y="504.01" width="1.1" height="2.39" fill="#3f64c0"/>
<rect x="335.15" y="504.85" width="1.1" height="1.55" fill="#3f64c0"/>
<rect x="338.27" y="504.19" width="1.1" height="2.21" fill="#3f64c0"/>
<rect x="341.40" y="504.95" width="1.1" height="1.45" fill="#3f64c0"/>
<rect x="344.53" y="504.03" width="1.1" height="2.37" fill="#3f64c0"/>
<rect x="347.66" y="504.67" width="1.1" height="1.73" fill="#3f64c0"/>
<rect x="350.79" y="503.98" width="1.1" height="2.42" fill="#3f64c0"/>
<rect x="353.91" y="504.91" width="1.1" height="1.49" fill="#3f64c0"/>
<rect x="357.04" y="503.62" width="1.1" height="2.78" fill="#3f64c0"/>
<rect x="360.17" y="504.80" width="1.1" height="1.60" fill="#3f64c0"/>
<rect x="363.30" y="503.69" width="1.1" height="2.71" fill="#3f64c0"/>
<rect x="366.43" y="504.73" width="1.1" height="1.67" fill="#3f64c0"/>
<rect x="369.55" y="504.18" width="1.1" height="2.22" fill="#3f64c0"/>
<rect x="372.68" y="504.85" width="1.1" height="1.55" fill="#3f64c0"/>
<rect x="375.81" y="503.94" width="1.1" height="2.46" fill="#3f64c0"/>
<rect x="378.94" y="504.64" width="1.1" height="1.76" fill="#3f64c0"/>
<line x1="309.60" y1="499.80" x2="309.60" y2="506.30" stroke="#4a70c8" stroke-width="0.8"/>
<line x1="17.30" y1="18.30" x2="17.30" y2="147.50" stroke="#8a8a8a" stroke-width="0.7"/>
<line x1="17.30" y1="129.04" x2="18.70" y2="129.04" stroke="#8a8a8a" stroke-width="0.6"/>
<text x="12.40" y="130.79" font-size="4.9" fill="#262626" text-anchor="end" textLength="5.10" lengthAdjust="spacingAndGlyphs" font-family='"Liberation Sans", sans-serif' stroke="#262626" stroke-width="0.15">10</text>
<line x1="17.30" y1="110.59" x2="18.70" y2="110.59" stroke="#8a8a8a" stroke-width="0.6"/>
<text x="12.40" y="112.34" font-size="4.9" fill="#262626" text-anchor="end" textLength="5.10" lengthAdjust="spacingAndGlyphs" font-family='"Liberation Sans", sans-serif' stroke="#262626" stroke-width="0.15">20</text>
<line x1="17.30" y1="92.13" x2="18.70" y2="92.13" stroke="#8a8a8a" stroke-width="0.6"/>
<text x="12.40" y="93.88" font-size="4.9" fill="#262626" text-anchor="end" textLength="5.10" lengthAdjust="spacingAndGlyphs" font-family='"Liberation Sans", sans-serif' stroke="#262626" stroke-width="0.15">30</text>
<line x1="17.30" y1="73.67" x2="18.70" y2="73.67" stroke="#8a8a8a" stroke-width="0.6"/>
<text x="12.40" y="75.42" font-size="4.9" fill="#262626" text-anchor="end" textLength="5.10" lengthAdjust="spacingAndGlyphs" font-family='"Liberation Sans", sans-serif' stroke="#262626" stroke-width="0.15">40</text>
<line x1="17.30" y1="55.21" x2="18.70" y2="55.21" stroke="#8a8a8a" stroke-width="0.6"/>
<text x="12.40" y="56.96" font-size="4.9" fill="#262626" text-anchor="end" textLength="5.10" lengthAdjust="spacingAndGlyphs" font-family='"Liberation Sans", sans-serif' stroke="#262626" stroke-width="0.15">50</text>
<line x1="17.30" y1="36.76" x2="18.70" y2="36.76" stroke="#8a8a8a" stroke-width="0.6"/>
<text x="12.40" y="38.51" font-size="4.9" fill="#262626" text-anchor="end" textLength="5.10" lengthAdjust="spacingAndGlyphs" font-family='"Liberation Sans", sans-serif' stroke="#262626" stroke-width="0.15">60</text>
<line x1="17.30" y1="18.30" x2="18.70" y2="18.30" stroke="#8a8a8a" stroke-width="0.6"/>
<text x="12.40" y="20.05" font-size="4.9" fill="#262626" text-anchor="end" textLength="5.10" lengthAdjust="spacingAndGlyphs" font-family='"Liberation Sans", sans-serif' stroke="#262626" stroke-width="0.15">70</text>
<line x1="17.30" y1="147.50" x2="246.00" y2="147.50" stroke="#8a8a8a" stroke-width="0.7"/>
<line x1="17.30" y1="147.50" x2="17.30" y2="146.20" stroke="#3b4a66" stroke-width="0.6"/>
<text x="17.80" y="156.15" font-size="4.9" fill="#262626" text-anchor="middle" textLength="2.65" lengthAdjust="spacingAndGlyphs" font-family='"Liberation Sans", sans-serif' stroke="#262626" stroke-width="0.15">0</text>
<line x1="40.17" y1="147.50" x2="40.17" y2="146.20" stroke="#3b4a66" stroke-width="0.6"/>
<text x="40.67" y="156.15" font-size="4.9" fill="#262626" text-anchor="middle" textLength="7.95" lengthAdjust="spacingAndGlyphs" font-family='"Liberation Sans", sans-serif' stroke="#262626" stroke-width="0.15">150</text>
<line x1="63.04" y1="147.50" x2="63.04" y2="146.20" stroke="#3b4a66" stroke-width="0.6"/>
<text x="63.54" y="156.15" font-size="4.9" fill="#262626" text-anchor="middle" textLength="7.95" lengthAdjust="spacingAndGlyphs" font-family='"Liberation Sans", sans-serif' stroke="#262626" stroke-width="0.15">300</text>
<line x1="85.91" y1="147.50" x2="85.91" y2="146.20" stroke="#3b4a66" stroke-width="0.6"/>
<text x="86.41" y="156.15" font-size="4.9" fill="#262626" text-anchor="middle" textLength="7.95" lengthAdjust="spacingAndGlyphs" font-family='"Liberation Sans", sans-serif' stroke="#262626" stroke-width="0.15">450</text>
<line x1="108.78" y1="147.50" x2="108.78" y2="146.20" stroke="#3b4a66" stroke-width="0.6"/>
<text x="109.28" y="156.15" font-size="4.9" fill="#262626" text-anchor="middle" textLength="7.95" lengthAdjust="spacingAndGlyphs" font-family='"Liberation Sans", sans-serif' stroke="#262626" stroke-width="0.15">600</text>
<line x1="131.65" y1="147.50" x2="131.65" y2="146.20" stroke="#3b4a66" stroke-width="0.6"/>
<text x="132.15" y="156.15" font-size="4.9" fill="#262626" text-anchor="middle" textLength="7.95" lengthAdjust="spacingAndGlyphs" font-family='"Liberation Sans", sans-serif' stroke="#262626" stroke-width="0.15">750</text>
<line x1="154.52" y1="147.50" x2="154.52" y2="146.20" stroke="#3b4a66" stroke-width="0.6"/>
<text x="155.02" y="156.15" font-size="4.9" fill="#262626" text-anchor="middle" textLength="7.95" lengthAdjust="spacingAndGlyphs" font-family='"Liberation Sans", sans-serif' stroke="#262626" stroke-width="0.15">900</text>
<line x1="177.39" y1="147.50" x2="177.39" y2="146.20" stroke="#3b4a66" stroke-width="0.6"/>
<text x="177.89" y="156.15" font-size="4.9" fill="#262626" text-anchor="middle" textLength="10.60" lengthAdjust="spacingAndGlyphs" font-family='"Liberation Sans", sans-serif' stroke="#262626" stroke-width="0.15">1050</text>
<line x1="200.26" y1="147.50" x2="200.26" y2="146.20" stroke="#3b4a66" stroke-width="0.6"/>
<text x="200.76" y="156.15" font-size="4.9" fill="#262626" text-anchor="middle" textLength="10.60" lengthAdjust="spacingAndGlyphs" font-family='"Liberation Sans", sans-serif' stroke="#262626" stroke-width="0.15">1200</text>
<line x1="223.13" y1="147.50" x2="223.13" y2="146.20" stroke="#3b4a66" stroke-width="0.6"/>
<text x="223.63" y="156.15" font-size="4.9" fill="#262626" text-anchor="middle" textLength="10.60" lengthAdjust="spacingAndGlyphs" font-family='"Liberation Sans", sans-serif' stroke="#262626" stroke-width="0.15">1350</text>
<line x1="246.00" y1="147.50" x2="246.00" y2="146.20" stroke="#3b4a66" stroke-width="0.6"/>
<text x="246.50" y="156.15" font-size="4.9" fill="#262626" text-anchor="middle" textLength="10.60" lengthAdjust="spacingAndGlyphs" font-family='"Liberation Sans", sans-serif' stroke="#262626" stroke-width="0.15">1500</text>
<text x="7.00" y="11.10" font-size="5.0" fill="#262626" textLength="40.50" lengthAdjust="spacingAndGlyphs" font-family='"Liberation Sans", sans-serif' stroke="#262626" stroke-width="0.15">CPU Utilization (%)</text>
<text x="251.50" y="148.00" font-size="4.9" fill="#262626" textLength="16.30" lengthAdjust="spacingAndGlyphs" font-family='"Liberation Sans", sans-serif' stroke="#262626" stroke-width="0.15">time (s)</text>
<text x="51.00" y="172.20" font-size="9.1" fill="#1a1a1a" textLength="172.50" lengthAdjust="spacingAndGlyphs" font-family='"Liberation Serif", serif'><tspan font-weight="bold">(a)</tspan> CPU utilization data collected from VM 1.</text>
<line x1="290.40" y1="18.20" x2="290.40" y2="147.40" stroke="#8a8a8a" stroke-width="0.7"/>
<line x1="290.40" y1="128.94" x2="291.80" y2="128.94" stroke="#8a8a8a" stroke-width="0.6"/>
<text x="285.50" y="130.69" font-size="4.9" fill="#262626" text-anchor="end" textLength="5.10" lengthAdjust="spacingAndGlyphs" font-family='"Liberation Sans", sans-serif' stroke="#262626" stroke-width="0.15">10</text>
<line x1="290.40" y1="110.49" x2="291.80" y2="110.49" stroke="#8a8a8a" stroke-width="0.6"/>
<text x="285.50" y="112.24" font-size="4.9" fill="#262626" text-anchor="end" textLength="5.10" lengthAdjust="spacingAndGlyphs" font-family='"Liberation Sans", sans-serif' stroke="#262626" stroke-width="0.15">20</text>
<line x1="290.40" y1="92.03" x2="291.80" y2="92.03" stroke="#8a8a8a" stroke-width="0.6"/>
<text x="285.50" y="93.78" font-size="4.9" fill="#262626" text-anchor="end" textLength="5.10" lengthAdjust="spacingAndGlyphs" font-family='"Liberation Sans", sans-serif' stroke="#262626" stroke-width="0.15">30</text>
<line x1="290.40" y1="73.57" x2="291.80" y2="73.57" stroke="#8a8a8a" stroke-width="0.6"/>
<text x="285.50" y="75.32" font-size="4.9" fill="#262626" text-anchor="end" textLength="5.10" lengthAdjust="spacingAndGlyphs" font-family='"Liberation Sans", sans-serif' stroke="#262626" stroke-width="0.15">40</text>
<line x1="290.40" y1="55.11" x2="291.80" y2="55.11" stroke="#8a8a8a" stroke-width="0.6"/>
<text x="285.50" y="56.86" font-size="4.9" fill="#262626" text-anchor="end" textLength="5.10" lengthAdjust="spacingAndGlyphs" font-family='"Liberation Sans", sans-serif' stroke="#262626" stroke-width="0.15">50</text>
<line x1="290.40" y1="36.66" x2="291.80" y2="36.66" stroke="#8a8a8a" stroke-width="0.6"/>
<text x="285.50" y="38.41" font-size="4.9" fill="#262626" text-anchor="end" textLength="5.10" lengthAdjust="spacingAndGlyphs" font-family='"Liberation Sans", sans-serif' stroke="#262626" stroke-width="0.15">60</text>
<line x1="290.40" y1="18.20" x2="291.80" y2="18.20" stroke="#8a8a8a" stroke-width="0.6"/>
<text x="285.50" y="19.95" font-size="4.9" fill="#262626" text-anchor="end" textLength="5.10" lengthAdjust="spacingAndGlyphs" font-family='"Liberation Sans", sans-serif' stroke="#262626" stroke-width="0.15">70</text>
<line x1="290.40" y1="147.40" x2="519.40" y2="147.40" stroke="#8a8a8a" stroke-width="0.7"/>
<line x1="290.40" y1="147.40" x2="290.40" y2="146.10" stroke="#3b4a66" stroke-width="0.6"/>
<text x="290.90" y="156.05" font-size="4.9" fill="#262626" text-anchor="middle" textLength="2.65" lengthAdjust="spacingAndGlyphs" font-family='"Liberation Sans", sans-serif' stroke="#262626" stroke-width="0.15">0</text>
<line x1="313.30" y1="147.40" x2="313.30" y2="146.10" stroke="#3b4a66" stroke-width="0.6"/>
<text x="313.80" y="156.05" font-size="4.9" fill="#262626" text-anchor="middle" textLength="7.95" lengthAdjust="spacingAndGlyphs" font-family='"Liberation Sans", sans-serif' stroke="#262626" stroke-width="0.15">150</text>
<line x1="336.20" y1="147.40" x2="336.20" y2="146.10" stroke="#3b4a66" stroke-width="0.6"/>
<text x="336.70" y="156.05" font-size="4.9" fill="#262626" text-anchor="middle" textLength="7.95" lengthAdjust="spacingAndGlyphs" font-family='"Liberation Sans", sans-serif' stroke="#262626" stroke-width="0.15">300</text>
<line x1="359.10" y1="147.40" x2="359.10" y2="146.10" stroke="#3b4a66" stroke-width="0.6"/>
<text x="359.60" y="156.05" font-size="4.9" fill="#262626" text-anchor="middle" textLength="7.95" lengthAdjust="spacingAndGlyphs" font-family='"Liberation Sans", sans-serif' stroke="#262626" stroke-width="0.15">450</text>
<line x1="382.00" y1="147.40" x2="382.00" y2="146.10" stroke="#3b4a66" stroke-width="0.6"/>
<text x="382.50" y="156.05" font-size="4.9" fill="#262626" text-anchor="middle" textLength="7.95" lengthAdjust="spacingAndGlyphs" font-family='"Liberation Sans", sans-serif' stroke="#262626" stroke-width="0.15">600</text>
<line x1="404.90" y1="147.40" x2="404.90" y2="146.10" stroke="#3b4a66" stroke-width="0.6"/>
<text x="405.40" y="156.05" font-size="4.9" fill="#262626" text-anchor="middle" textLength="7.95" lengthAdjust="spacingAndGlyphs" font-family='"Liberation Sans", sans-serif' stroke="#262626" stroke-width="0.15">750</text>
<line x1="427.80" y1="147.40" x2="427.80" y2="146.10" stroke="#3b4a66" stroke-width="0.6"/>
<text x="428.30" y="156.05" font-size="4.9" fill="#262626" text-anchor="middle" textLength="7.95" lengthAdjust="spacingAndGlyphs" font-family='"Liberation Sans", sans-serif' stroke="#262626" stroke-width="0.15">900</text>
<line x1="450.70" y1="147.40" x2="450.70" y2="146.10" stroke="#3b4a66" stroke-width="0.6"/>
<text x="451.20" y="156.05" font-size="4.9" fill="#262626" text-anchor="middle" textLength="10.60" lengthAdjust="spacingAndGlyphs" font-family='"Liberation Sans", sans-serif' stroke="#262626" stroke-width="0.15">1050</text>
<line x1="473.60" y1="147.40" x2="473.60" y2="146.10" stroke="#3b4a66" stroke-width="0.6"/>
<text x="474.10" y="156.05" font-size="4.9" fill="#262626" text-anchor="middle" textLength="10.60" lengthAdjust="spacingAndGlyphs" font-family='"Liberation Sans", sans-serif' stroke="#262626" stroke-width="0.15">1200</text>
<line x1="496.50" y1="147.40" x2="496.50" y2="146.10" stroke="#3b4a66" stroke-width="0.6"/>
<text x="497.00" y="156.05" font-size="4.9" fill="#262626" text-anchor="middle" textLength="10.60" lengthAdjust="spacingAndGlyphs" font-family='"Liberation Sans", sans-serif' stroke="#262626" stroke-width="0.15">1350</text>
<line x1="519.40" y1="147.40" x2="519.40" y2="146.10" stroke="#3b4a66" stroke-width="0.6"/>
<text x="519.90" y="156.05" font-size="4.9" fill="#262626" text-anchor="middle" textLength="10.60" lengthAdjust="spacingAndGlyphs" font-family='"Liberation Sans", sans-serif' stroke="#262626" stroke-width="0.15">1500</text>
<text x="280.00" y="11.40" font-size="5.0" fill="#262626" textLength="40.70" lengthAdjust="spacingAndGlyphs" font-family='"Liberation Sans", sans-serif' stroke="#262626" stroke-width="0.15">CPU Utilization (%)</text>
<text x="524.00" y="148.00" font-size="4.9" fill="#262626" textLength="17.30" lengthAdjust="spacingAndGlyphs" font-family='"Liberation Sans", sans-serif' stroke="#262626" stroke-width="0.15">time (s)</text>
<text x="323.60" y="172.20" font-size="9.1" fill="#1a1a1a" textLength="173.70" lengthAdjust="spacingAndGlyphs" font-family='"Liberation Serif", serif'><tspan font-weight="bold">(b)</tspan> CPU utilization data collected from VM 2.</text>
<line x1="18.50" y1="198.80" x2="18.50" y2="327.70" stroke="#8a8a8a" stroke-width="0.7"/>
<line x1="18.50" y1="309.29" x2="19.90" y2="309.29" stroke="#8a8a8a" stroke-width="0.6"/>
<text x="13.60" y="311.04" font-size="4.9" fill="#262626" text-anchor="end" textLength="5.10" lengthAdjust="spacingAndGlyphs" font-family='"Liberation Sans", sans-serif' stroke="#262626" stroke-width="0.15">10</text>
<line x1="18.50" y1="290.87" x2="19.90" y2="290.87" stroke="#8a8a8a" stroke-width="0.6"/>
<text x="13.60" y="292.62" font-size="4.9" fill="#262626" text-anchor="end" textLength="5.10" lengthAdjust="spacingAndGlyphs" font-family='"Liberation Sans", sans-serif' stroke="#262626" stroke-width="0.15">20</text>
<line x1="18.50" y1="272.46" x2="19.90" y2="272.46" stroke="#8a8a8a" stroke-width="0.6"/>
<text x="13.60" y="274.21" font-size="4.9" fill="#262626" text-anchor="end" textLength="5.10" lengthAdjust="spacingAndGlyphs" font-family='"Liberation Sans", sans-serif' stroke="#262626" stroke-width="0.15">30</text>
<line x1="18.50" y1="254.04" x2="19.90" y2="254.04" stroke="#8a8a8a" stroke-width="0.6"/>
<text x="13.60" y="255.79" font-size="4.9" fill="#262626" text-anchor="end" textLength="5.10" lengthAdjust="spacingAndGlyphs" font-family='"Liberation Sans", sans-serif' stroke="#262626" stroke-width="0.15">40</text>
<line x1="18.50" y1="235.63" x2="19.90" y2="235.63" stroke="#8a8a8a" stroke-width="0.6"/>
<text x="13.60" y="237.38" font-size="4.9" fill="#262626" text-anchor="end" textLength="5.10" lengthAdjust="spacingAndGlyphs" font-family='"Liberation Sans", sans-serif' stroke="#262626" stroke-width="0.15">50</text>
<line x1="18.50" y1="217.21" x2="19.90" y2="217.21" stroke="#8a8a8a" stroke-width="0.6"/>
<text x="13.60" y="218.96" font-size="4.9" fill="#262626" text-anchor="end" textLength="5.10" lengthAdjust="spacingAndGlyphs" font-family='"Liberation Sans", sans-serif' stroke="#262626" stroke-width="0.15">60</text>
<line x1="18.50" y1="198.80" x2="19.90" y2="198.80" stroke="#8a8a8a" stroke-width="0.6"/>
<text x="13.60" y="200.55" font-size="4.9" fill="#262626" text-anchor="end" textLength="5.10" lengthAdjust="spacingAndGlyphs" font-family='"Liberation Sans", sans-serif' stroke="#262626" stroke-width="0.15">70</text>
<line x1="18.50" y1="327.70" x2="246.30" y2="327.70" stroke="#8a8a8a" stroke-width="0.7"/>
<line x1="18.50" y1="327.70" x2="18.50" y2="326.40" stroke="#3b4a66" stroke-width="0.6"/>
<text x="19.00" y="336.25" font-size="4.9" fill="#262626" text-anchor="middle" textLength="2.65" lengthAdjust="spacingAndGlyphs" font-family='"Liberation Sans", sans-serif' stroke="#262626" stroke-width="0.15">0</text>
<line x1="41.28" y1="327.70" x2="41.28" y2="326.40" stroke="#3b4a66" stroke-width="0.6"/>
<text x="41.78" y="336.25" font-size="4.9" fill="#262626" text-anchor="middle" textLength="7.95" lengthAdjust="spacingAndGlyphs" font-family='"Liberation Sans", sans-serif' stroke="#262626" stroke-width="0.15">150</text>
<line x1="64.06" y1="327.70" x2="64.06" y2="326.40" stroke="#3b4a66" stroke-width="0.6"/>
<text x="64.56" y="336.25" font-size="4.9" fill="#262626" text-anchor="middle" textLength="7.95" lengthAdjust="spacingAndGlyphs" font-family='"Liberation Sans", sans-serif' stroke="#262626" stroke-width="0.15">300</text>
<line x1="86.84" y1="327.70" x2="86.84" y2="326.40" stroke="#3b4a66" stroke-width="0.6"/>
<text x="87.34" y="336.25" font-size="4.9" fill="#262626" text-anchor="middle" textLength="7.95" lengthAdjust="spacingAndGlyphs" font-family='"Liberation Sans", sans-serif' stroke="#262626" stroke-width="0.15">450</text>
<line x1="109.62" y1="327.70" x2="109.62" y2="326.40" stroke="#3b4a66" stroke-width="0.6"/>
<text x="110.12" y="336.25" font-size="4.9" fill="#262626" text-anchor="middle" textLength="7.95" lengthAdjust="spacingAndGlyphs" font-family='"Liberation Sans", sans-serif' stroke="#262626" stroke-width="0.15">600</text>
<line x1="132.40" y1="327.70" x2="132.40" y2="326.40" stroke="#3b4a66" stroke-width="0.6"/>
<text x="132.90" y="336.25" font-size="4.9" fill="#262626" text-anchor="middle" textLength="7.95" lengthAdjust="spacingAndGlyphs" font-family='"Liberation Sans", sans-serif' stroke="#262626" stroke-width="0.15">750</text>
<line x1="155.18" y1="327.70" x2="155.18" y2="326.40" stroke="#3b4a66" stroke-width="0.6"/>
<text x="155.68" y="336.25" font-size="4.9" fill="#262626" text-anchor="middle" textLength="7.95" lengthAdjust="spacingAndGlyphs" font-family='"Liberation Sans", sans-serif' stroke="#262626" stroke-width="0.15">900</text>
<line x1="177.96" y1="327.70" x2="177.96" y2="326.40" stroke="#3b4a66" stroke-width="0.6"/>
<text x="178.46" y="336.25" font-size="4.9" fill="#262626" text-anchor="middle" textLength="10.60" lengthAdjust="spacingAndGlyphs" font-family='"Liberation Sans", sans-serif' stroke="#262626" stroke-width="0.15">1050</text>
<line x1="200.74" y1="327.70" x2="200.74" y2="326.40" stroke="#3b4a66" stroke-width="0.6"/>
<text x="201.24" y="336.25" font-size="4.9" fill="#262626" text-anchor="middle" textLength="10.60" lengthAdjust="spacingAndGlyphs" font-family='"Liberation Sans", sans-serif' stroke="#262626" stroke-width="0.15">1200</text>
<line x1="223.52" y1="327.70" x2="223.52" y2="326.40" stroke="#3b4a66" stroke-width="0.6"/>
<text x="224.02" y="336.25" font-size="4.9" fill="#262626" text-anchor="middle" textLength="10.60" lengthAdjust="spacingAndGlyphs" font-family='"Liberation Sans", sans-serif' stroke="#262626" stroke-width="0.15">1350</text>
<line x1="246.30" y1="327.70" x2="246.30" y2="326.40" stroke="#3b4a66" stroke-width="0.6"/>
<text x="246.80" y="336.25" font-size="4.9" fill="#262626" text-anchor="middle" textLength="10.60" lengthAdjust="spacingAndGlyphs" font-family='"Liberation Sans", sans-serif' stroke="#262626" stroke-width="0.15">1500</text>
<text x="8.20" y="191.80" font-size="5.0" fill="#262626" textLength="40.30" lengthAdjust="spacingAndGlyphs" font-family='"Liberation Sans", sans-serif' stroke="#262626" stroke-width="0.15">CPU Utilization (%)</text>
<text x="252.00" y="327.80" font-size="4.9" fill="#262626" textLength="16.40" lengthAdjust="spacingAndGlyphs" font-family='"Liberation Sans", sans-serif' stroke="#262626" stroke-width="0.15">time (s)</text>
<text x="51.30" y="352.20" font-size="9.1" fill="#1a1a1a" textLength="171.60" lengthAdjust="spacingAndGlyphs" font-family='"Liberation Serif", serif'><tspan font-weight="bold">(c)</tspan> CPU utilization data collected from VM 3.</text>
<line x1="291.40" y1="198.30" x2="291.40" y2="327.10" stroke="#8a8a8a" stroke-width="0.7"/>
<line x1="291.40" y1="308.70" x2="292.80" y2="308.70" stroke="#8a8a8a" stroke-width="0.6"/>
<text x="286.50" y="310.45" font-size="4.9" fill="#262626" text-anchor="end" textLength="5.10" lengthAdjust="spacingAndGlyphs" font-family='"Liberation Sans", sans-serif' stroke="#262626" stroke-width="0.15">10</text>
<line x1="291.40" y1="290.30" x2="292.80" y2="290.30" stroke="#8a8a8a" stroke-width="0.6"/>
<text x="286.50" y="292.05" font-size="4.9" fill="#262626" text-anchor="end" textLength="5.10" lengthAdjust="spacingAndGlyphs" font-family='"Liberation Sans", sans-serif' stroke="#262626" stroke-width="0.15">20</text>
<line x1="291.40" y1="271.90" x2="292.80" y2="271.90" stroke="#8a8a8a" stroke-width="0.6"/>
<text x="286.50" y="273.65" font-size="4.9" fill="#262626" text-anchor="end" textLength="5.10" lengthAdjust="spacingAndGlyphs" font-family='"Liberation Sans", sans-serif' stroke="#262626" stroke-width="0.15">30</text>
<line x1="291.40" y1="253.50" x2="292.80" y2="253.50" stroke="#8a8a8a" stroke-width="0.6"/>
<text x="286.50" y="255.25" font-size="4.9" fill="#262626" text-anchor="end" textLength="5.10" lengthAdjust="spacingAndGlyphs" font-family='"Liberation Sans", sans-serif' stroke="#262626" stroke-width="0.15">40</text>
<line x1="291.40" y1="235.10" x2="292.80" y2="235.10" stroke="#8a8a8a" stroke-width="0.6"/>
<text x="286.50" y="236.85" font-size="4.9" fill="#262626" text-anchor="end" textLength="5.10" lengthAdjust="spacingAndGlyphs" font-family='"Liberation Sans", sans-serif' stroke="#262626" stroke-width="0.15">50</text>
<line x1="291.40" y1="216.70" x2="292.80" y2="216.70" stroke="#8a8a8a" stroke-width="0.6"/>
<text x="286.50" y="218.45" font-size="4.9" fill="#262626" text-anchor="end" textLength="5.10" lengthAdjust="spacingAndGlyphs" font-family='"Liberation Sans", sans-serif' stroke="#262626" stroke-width="0.15">60</text>
<line x1="291.40" y1="198.30" x2="292.80" y2="198.30" stroke="#8a8a8a" stroke-width="0.6"/>
<text x="286.50" y="200.05" font-size="4.9" fill="#262626" text-anchor="end" textLength="5.10" lengthAdjust="spacingAndGlyphs" font-family='"Liberation Sans", sans-serif' stroke="#262626" stroke-width="0.15">70</text>
<line x1="291.40" y1="327.10" x2="517.30" y2="327.10" stroke="#8a8a8a" stroke-width="0.7"/>
<line x1="291.40" y1="327.10" x2="291.40" y2="325.80" stroke="#3b4a66" stroke-width="0.6"/>
<text x="291.90" y="335.55" font-size="4.9" fill="#262626" text-anchor="middle" textLength="2.65" lengthAdjust="spacingAndGlyphs" font-family='"Liberation Sans", sans-serif' stroke="#262626" stroke-width="0.15">0</text>
<line x1="313.99" y1="327.10" x2="313.99" y2="325.80" stroke="#3b4a66" stroke-width="0.6"/>
<text x="314.49" y="335.55" font-size="4.9" fill="#262626" text-anchor="middle" textLength="7.95" lengthAdjust="spacingAndGlyphs" font-family='"Liberation Sans", sans-serif' stroke="#262626" stroke-width="0.15">150</text>
<line x1="336.58" y1="327.10" x2="336.58" y2="325.80" stroke="#3b4a66" stroke-width="0.6"/>
<text x="337.08" y="335.55" font-size="4.9" fill="#262626" text-anchor="middle" textLength="7.95" lengthAdjust="spacingAndGlyphs" font-family='"Liberation Sans", sans-serif' stroke="#262626" stroke-width="0.15">300</text>
<line x1="359.17" y1="327.10" x2="359.17" y2="325.80" stroke="#3b4a66" stroke-width="0.6"/>
<text x="359.67" y="335.55" font-size="4.9" fill="#262626" text-anchor="middle" textLength="7.95" lengthAdjust="spacingAndGlyphs" font-family='"Liberation Sans", sans-serif' stroke="#262626" stroke-width="0.15">450</text>
<line x1="381.76" y1="327.10" x2="381.76" y2="325.80" stroke="#3b4a66" stroke-width="0.6"/>
<text x="382.26" y="335.55" font-size="4.9" fill="#262626" text-anchor="middle" textLength="7.95" lengthAdjust="spacingAndGlyphs" font-family='"Liberation Sans", sans-serif' stroke="#262626" stroke-width="0.15">600</text>
<line x1="404.35" y1="327.10" x2="404.35" y2="325.80" stroke="#3b4a66" stroke-width="0.6"/>
<text x="404.85" y="335.55" font-size="4.9" fill="#262626" text-anchor="middle" textLength="7.95" lengthAdjust="spacingAndGlyphs" font-family='"Liberation Sans", sans-serif' stroke="#262626" stroke-width="0.15">750</text>
<line x1="426.94" y1="327.10" x2="426.94" y2="325.80" stroke="#3b4a66" stroke-width="0.6"/>
<text x="427.44" y="335.55" font-size="4.9" fill="#262626" text-anchor="middle" textLength="7.95" lengthAdjust="spacingAndGlyphs" font-family='"Liberation Sans", sans-serif' stroke="#262626" stroke-width="0.15">900</text>
<line x1="449.53" y1="327.10" x2="449.53" y2="325.80" stroke="#3b4a66" stroke-width="0.6"/>
<text x="450.03" y="335.55" font-size="4.9" fill="#262626" text-anchor="middle" textLength="10.60" lengthAdjust="spacingAndGlyphs" font-family='"Liberation Sans", sans-serif' stroke="#262626" stroke-width="0.15">1050</text>
<line x1="472.12" y1="327.10" x2="472.12" y2="325.80" stroke="#3b4a66" stroke-width="0.6"/>
<text x="472.62" y="335.55" font-size="4.9" fill="#262626" text-anchor="middle" textLength="10.60" lengthAdjust="spacingAndGlyphs" font-family='"Liberation Sans", sans-serif' stroke="#262626" stroke-width="0.15">1200</text>
<line x1="494.71" y1="327.10" x2="494.71" y2="325.80" stroke="#3b4a66" stroke-width="0.6"/>
<text x="495.21" y="335.55" font-size="4.9" fill="#262626" text-anchor="middle" textLength="10.60" lengthAdjust="spacingAndGlyphs" font-family='"Liberation Sans", sans-serif' stroke="#262626" stroke-width="0.15">1350</text>
<line x1="517.30" y1="327.10" x2="517.30" y2="325.80" stroke="#3b4a66" stroke-width="0.6"/>
<text x="517.80" y="335.55" font-size="4.9" fill="#262626" text-anchor="middle" textLength="10.60" lengthAdjust="spacingAndGlyphs" font-family='"Liberation Sans", sans-serif' stroke="#262626" stroke-width="0.15">1500</text>
<text x="281.10" y="191.40" font-size="5.0" fill="#262626" textLength="40.60" lengthAdjust="spacingAndGlyphs" font-family='"Liberation Sans", sans-serif' stroke="#262626" stroke-width="0.15">CPU Utilization (%)</text>
<text x="524.00" y="328.00" font-size="4.9" fill="#262626" textLength="17.00" lengthAdjust="spacingAndGlyphs" font-family='"Liberation Sans", sans-serif' stroke="#262626" stroke-width="0.15">time (s)</text>
<text x="323.60" y="352.20" font-size="9.1" fill="#1a1a1a" textLength="173.70" lengthAdjust="spacingAndGlyphs" font-family='"Liberation Serif", serif'><tspan font-weight="bold">(d)</tspan> CPU utilization data collected from VM 4.</text>
<line x1="154.50" y1="377.90" x2="154.50" y2="506.30" stroke="#8a8a8a" stroke-width="0.7"/>
<line x1="154.50" y1="487.96" x2="155.90" y2="487.96" stroke="#8a8a8a" stroke-width="0.6"/>
<text x="149.60" y="489.71" font-size="4.9" fill="#262626" text-anchor="end" textLength="5.10" lengthAdjust="spacingAndGlyphs" font-family='"Liberation Sans", sans-serif' stroke="#262626" stroke-width="0.15">10</text>
<line x1="154.50" y1="469.61" x2="155.90" y2="469.61" stroke="#8a8a8a" stroke-width="0.6"/>
<text x="149.60" y="471.36" font-size="4.9" fill="#262626" text-anchor="end" textLength="5.10" lengthAdjust="spacingAndGlyphs" font-family='"Liberation Sans", sans-serif' stroke="#262626" stroke-width="0.15">20</text>
<line x1="154.50" y1="451.27" x2="155.90" y2="451.27" stroke="#8a8a8a" stroke-width="0.6"/>
<text x="149.60" y="453.02" font-size="4.9" fill="#262626" text-anchor="end" textLength="5.10" lengthAdjust="spacingAndGlyphs" font-family='"Liberation Sans", sans-serif' stroke="#262626" stroke-width="0.15">30</text>
<line x1="154.50" y1="432.93" x2="155.90" y2="432.93" stroke="#8a8a8a" stroke-width="0.6"/>
<text x="149.60" y="434.68" font-size="4.9" fill="#262626" text-anchor="end" textLength="5.10" lengthAdjust="spacingAndGlyphs" font-family='"Liberation Sans", sans-serif' stroke="#262626" stroke-width="0.15">40</text>
<line x1="154.50" y1="414.59" x2="155.90" y2="414.59" stroke="#8a8a8a" stroke-width="0.6"/>
<text x="149.60" y="416.34" font-size="4.9" fill="#262626" text-anchor="end" textLength="5.10" lengthAdjust="spacingAndGlyphs" font-family='"Liberation Sans", sans-serif' stroke="#262626" stroke-width="0.15">50</text>
<line x1="154.50" y1="396.24" x2="155.90" y2="396.24" stroke="#8a8a8a" stroke-width="0.6"/>
<text x="149.60" y="397.99" font-size="4.9" fill="#262626" text-anchor="end" textLength="5.10" lengthAdjust="spacingAndGlyphs" font-family='"Liberation Sans", sans-serif' stroke="#262626" stroke-width="0.15">60</text>
<line x1="154.50" y1="377.90" x2="155.90" y2="377.90" stroke="#8a8a8a" stroke-width="0.6"/>
<text x="149.60" y="379.65" font-size="4.9" fill="#262626" text-anchor="end" textLength="5.10" lengthAdjust="spacingAndGlyphs" font-family='"Liberation Sans", sans-serif' stroke="#262626" stroke-width="0.15">70</text>
<line x1="154.50" y1="506.30" x2="381.30" y2="506.30" stroke="#8a8a8a" stroke-width="0.7"/>
<line x1="154.50" y1="506.30" x2="154.50" y2="505.00" stroke="#3b4a66" stroke-width="0.6"/>
<text x="155.00" y="514.75" font-size="4.9" fill="#262626" text-anchor="middle" textLength="2.65" lengthAdjust="spacingAndGlyphs" font-family='"Liberation Sans", sans-serif' stroke="#262626" stroke-width="0.15">0</text>
<line x1="177.18" y1="506.30" x2="177.18" y2="505.00" stroke="#3b4a66" stroke-width="0.6"/>
<text x="177.68" y="514.75" font-size="4.9" fill="#262626" text-anchor="middle" textLength="7.95" lengthAdjust="spacingAndGlyphs" font-family='"Liberation Sans", sans-serif' stroke="#262626" stroke-width="0.15">150</text>
<line x1="199.86" y1="506.30" x2="199.86" y2="505.00" stroke="#3b4a66" stroke-width="0.6"/>
<text x="200.36" y="514.75" font-size="4.9" fill="#262626" text-anchor="middle" textLength="7.95" lengthAdjust="spacingAndGlyphs" font-family='"Liberation Sans", sans-serif' stroke="#262626" stroke-width="0.15">300</text>
<line x1="222.54" y1="506.30" x2="222.54" y2="505.00" stroke="#3b4a66" stroke-width="0.6"/>
<text x="223.04" y="514.75" font-size="4.9" fill="#262626" text-anchor="middle" textLength="7.95" lengthAdjust="spacingAndGlyphs" font-family='"Liberation Sans", sans-serif' stroke="#262626" stroke-width="0.15">450</text>
<line x1="245.22" y1="506.30" x2="245.22" y2="505.00" stroke="#3b4a66" stroke-width="0.6"/>
<text x="245.72" y="514.75" font-size="4.9" fill="#262626" text-anchor="middle" textLength="7.95" lengthAdjust="spacingAndGlyphs" font-family='"Liberation Sans", sans-serif' stroke="#262626" stroke-width="0.15">600</text>
<line x1="267.90" y1="506.30" x2="267.90" y2="505.00" stroke="#3b4a66" stroke-width="0.6"/>
<text x="268.40" y="514.75" font-size="4.9" fill="#262626" text-anchor="middle" textLength="7.95" lengthAdjust="spacingAndGlyphs" font-family='"Liberation Sans", sans-serif' stroke="#262626" stroke-width="0.15">750</text>
<line x1="290.58" y1="506.30" x2="290.58" y2="505.00" stroke="#3b4a66" stroke-width="0.6"/>
<text x="291.08" y="514.75" font-size="4.9" fill="#262626" text-anchor="middle" textLength="7.95" lengthAdjust="spacingAndGlyphs" font-family='"Liberation Sans", sans-serif' stroke="#262626" stroke-width="0.15">900</text>
<line x1="313.26" y1="506.30" x2="313.26" y2="505.00" stroke="#3b4a66" stroke-width="0.6"/>
<text x="313.76" y="514.75" font-size="4.9" fill="#262626" text-anchor="middle" textLength="10.60" lengthAdjust="spacingAndGlyphs" font-family='"Liberation Sans", sans-serif' stroke="#262626" stroke-width="0.15">1050</text>
<line x1="335.94" y1="506.30" x2="335.94" y2="505.00" stroke="#3b4a66" stroke-width="0.6"/>
<text x="336.44" y="514.75" font-size="4.9" fill="#262626" text-anchor="middle" textLength="10.60" lengthAdjust="spacingAndGlyphs" font-family='"Liberation Sans", sans-serif' stroke="#262626" stroke-width="0.15">1200</text>
<line x1="358.62" y1="506.30" x2="358.62" y2="505.00" stroke="#3b4a66" stroke-width="0.6"/>
<text x="359.12" y="514.75" font-size="4.9" fill="#262626" text-anchor="middle" textLength="10.60" lengthAdjust="spacingAndGlyphs" font-family='"Liberation Sans", sans-serif' stroke="#262626" stroke-width="0.15">1350</text>
<line x1="381.30" y1="506.30" x2="381.30" y2="505.00" stroke="#3b4a66" stroke-width="0.6"/>
<text x="381.80" y="514.75" font-size="4.9" fill="#262626" text-anchor="middle" textLength="10.60" lengthAdjust="spacingAndGlyphs" font-family='"Liberation Sans", sans-serif' stroke="#262626" stroke-width="0.15">1500</text>
<text x="143.70" y="370.80" font-size="5.0" fill="#262626" textLength="40.80" lengthAdjust="spacingAndGlyphs" font-family='"Liberation Sans", sans-serif' stroke="#262626" stroke-width="0.15">CPU Utilization (%)</text>
<text x="386.90" y="506.70" font-size="4.9" fill="#262626" textLength="17.10" lengthAdjust="spacingAndGlyphs" font-family='"Liberation Sans", sans-serif' stroke="#262626" stroke-width="0.15">time (s)</text>
<text x="187.60" y="531.20" font-size="9.1" fill="#1a1a1a" textLength="172.60" lengthAdjust="spacingAndGlyphs" font-family='"Liberation Serif", serif'><tspan font-weight="bold">(e)</tspan> CPU utilization data collected from VM 5.</text>
</svg>
</body></html>
